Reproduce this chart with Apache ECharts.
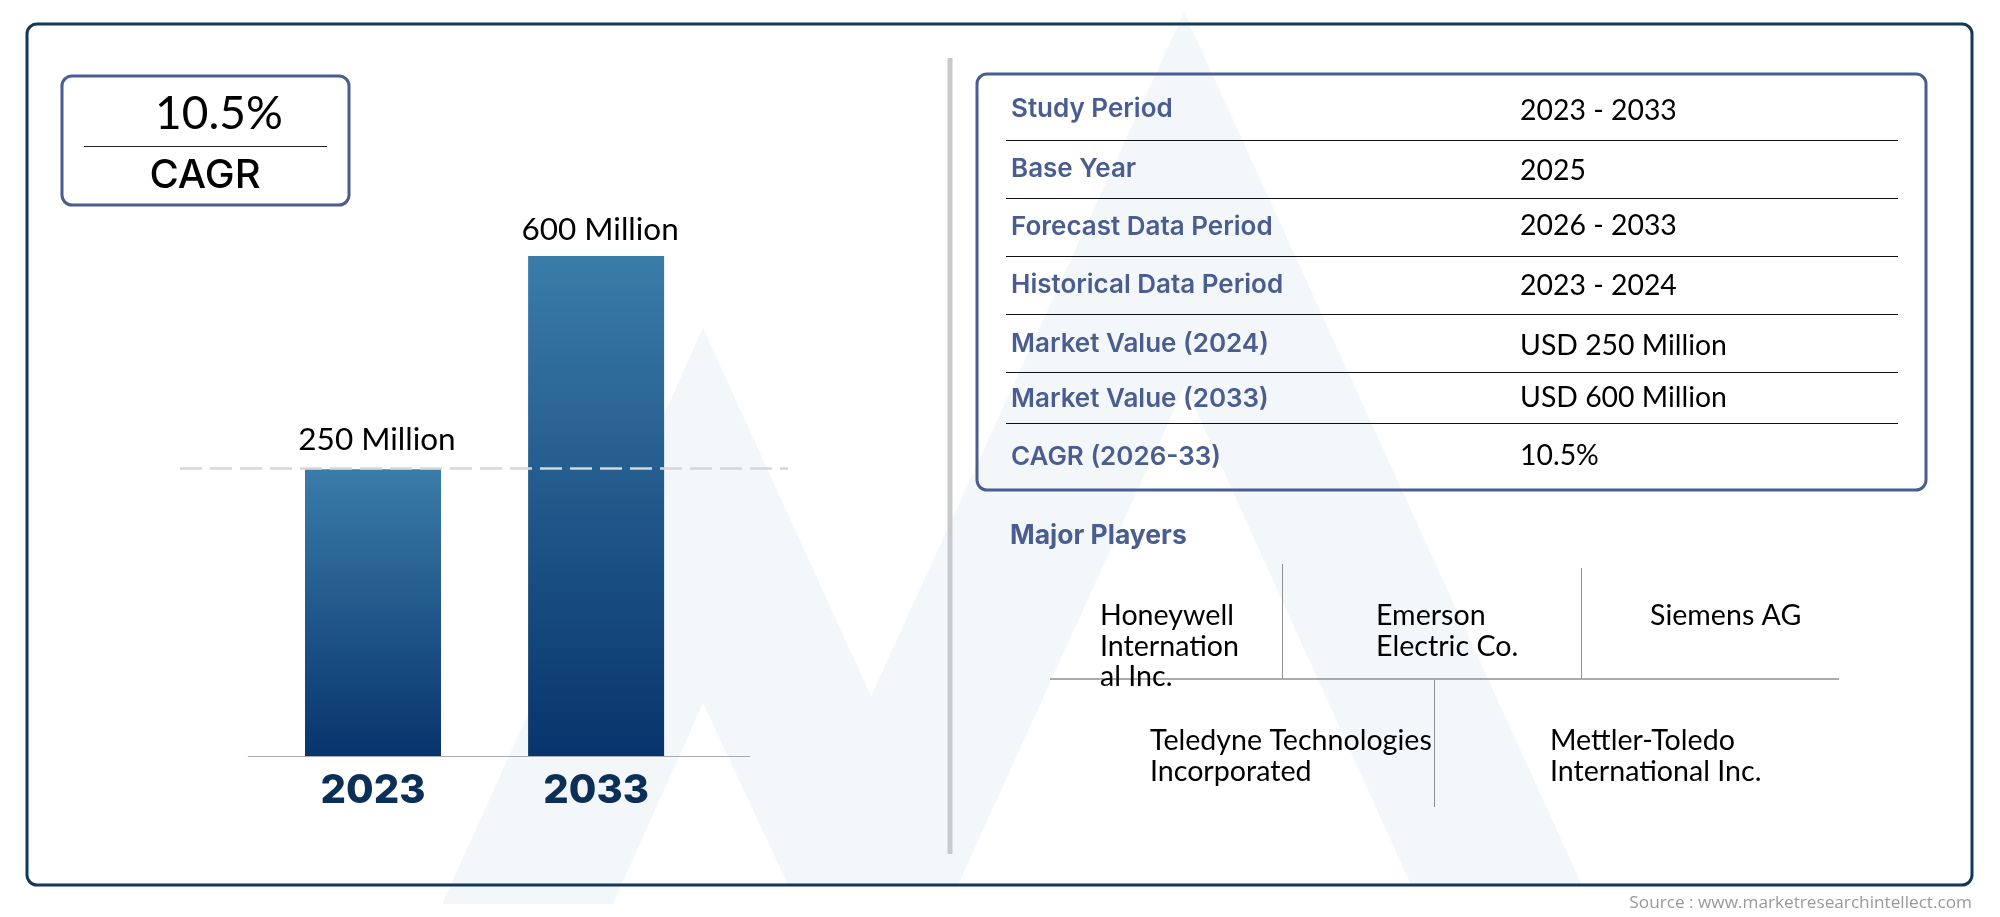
<!DOCTYPE html>
<html>
<head>
<meta charset="utf-8">
<title>CAGR chart</title>
<script src="https://cdn.jsdelivr.net/npm/echarts@6/dist/echarts.min.js"></script>
<style>
html, body { margin: 0; padding: 0; background: #fff; }
#chart-container { width: 2000px; height: 917px; }
</style>
</head>
<body>
<div id="chart-container"></div>
<script>
// bar data. Heights are as read off the picture, the drawn bars are not to scale with their labels
var years = [2023, 2033];
var barHeights = [344, 600];
var barLabels = ['250 Million', '600 Million'];
var refLevel = 345;

var cagrValue = '10.5%';
var cagrTitle = 'CAGR';

var tableLabels = ['Study Period', 'Base Year', 'Forecast Data Period', 'Historical Data Period', 'Market Value (2024)', 'Market Value (2033)', 'CAGR (2026-33)'];
var tableValues = ['2023 - 2033', '2025', '2026 - 2033', '2023 - 2024', 'USD 250 Million', 'USD 600 Million', '10.5%'];

var playersTitle = 'Major Players';
var playerNames = ['Honeywell\nInternation\nal Inc.', 'Emerson\nElectric Co.', 'Siemens AG', 'Teledyne Technologies\nIncorporated', 'Mettler-Toledo\nInternational Inc.'];
var sourceText = 'Source : www.marketresearchintellect.com';

// layout of the page around the chart
var labelGap = [13, 10];
var labelY = [109, 169, 227, 285, 344, 399, 457];
var valueY = [111, 171, 226, 286, 346, 398, 456];
var ruleY = [140.5, 198.5, 256.5, 314.5, 372.5, 423.5];
var playerX = [1100, 1376, 1650, 1150, 1550];
var playerY = [616, 616, 616, 741, 741];

var NAVY = '#12395b';
var SLATE = '#4a5d91';
var BODY_FONT = 'Lato';
var HEAD_FONT = 'Inter';

function text(str, x, y, size, family, weight, fill, align) {
    return {
        type: 'text', silent: true,
        style: {
            text: str, x: x, y: y, fontSize: size, fontFamily: family, fontWeight: weight,
            fill: fill, textAlign: align || 'left', textVerticalAlign: 'middle'
        }
    };
}

function line(x1, y1, x2, y2, color, width) {
    return {
        type: 'line', silent: true,
        shape: { x1: x1, y1: y1, x2: x2, y2: y2 },
        style: { stroke: color, lineWidth: width }
    };
}

function box(x, y, w, h, r, color, width) {
    return {
        type: 'rect', silent: true,
        shape: { x: x, y: y, width: w, height: h, r: r },
        style: { fill: 'transparent', stroke: color, lineWidth: width }
    };
}

var elements = [
    // pale logo behind everything
    {
        type: 'polygon', silent: true, z: -1,
        shape: { points: [[703, 328], [871, 696], [1184, 12], [1582, 885], [1411, 885], [1185, 386], [958, 885], [788, 885], [703, 703], [613, 904], [442, 904]] },
        style: { fill: '#f4f7fa' }
    },
    box(27, 24, 1945, 861, 10, NAVY, 3),
    line(950, 58, 950, 854, '#c8c9ca', 5),
    box(62, 76, 287, 129, 10, SLATE, 3),
    line(84, 146.5, 327, 146.5, '#222', 1),
    text(cagrValue, 219, 114, 46, BODY_FONT, 400, '#000', 'center'),
    text(cagrTitle, 205, 176, 40, HEAD_FONT, 500, '#000', 'center'),
    box(977, 74, 949, 416, 10, SLATE, 3),
    text(playersTitle, 1010, 536, 26.5, HEAD_FONT, 700, SLATE),
    line(1282.5, 564, 1282.5, 678, '#8f8f8f', 1),
    line(1581.5, 568, 1581.5, 678, '#8f8f8f', 1),
    line(1050, 679, 1839, 679, '#8f8f8f', 1.5),
    line(1434.5, 680, 1434.5, 807, '#8f8f8f', 1),
    text(sourceText, 1972, 903, 17.2, 'Open Sans', 400, '#999999', 'right')
];

tableLabels.forEach(function (label, i) {
    elements.push(text(label, 1011, labelY[i], 26, HEAD_FONT, 600, SLATE));
    elements.push(text(tableValues[i], 1520, valueY[i], 28.4, BODY_FONT, 400, '#000'));
});
ruleY.forEach(function (y) {
    elements.push(line(1006, y, 1898, y, '#111', 1));
});
playerNames.forEach(function (name, i) {
    name.split('\n').forEach(function (row, j) {
        elements.push(text(row, playerX[i], playerY[i] + j * 30.5, 28.6, BODY_FONT, 400, '#000'));
    });
});

var myChart = echarts.init(document.getElementById('chart-container'));

var option = {
    animation: false,
    graphic: { elements: elements },
    grid: { left: 180, width: 608, top: 256, height: 500 },
    xAxis: {
        type: 'value',
        min: 2014.35,
        max: 2041.6,
        splitLine: { show: false },
        axisLine: { show: false },
        axisTick: { show: false },
        axisLabel: {
            customValues: years,
            formatter: function (v) { return String(v); },
            margin: 15,
            fontFamily: HEAD_FONT,
            fontWeight: 800,
            fontSize: 40,
            color: '#0c2f57'
        }
    },
    yAxis: { type: 'value', min: 0, max: 600, show: false },
    series: [{
        type: 'bar',
        barWidth: 136,
        data: years.map(function (y, i) {
            return { value: [y, barHeights[i]], label: { distance: labelGap[i] } };
        }),
        itemStyle: {
            color: new echarts.graphic.LinearGradient(0, 0, 0, 1, [
                { offset: 0, color: '#3a7ca9' },
                { offset: 1, color: '#07346c' }
            ])
        },
        label: {
            show: true,
            position: 'top',
            offset: [4, 0],
            fontFamily: BODY_FONT,
            fontSize: 31.5,
            color: '#000',
            formatter: function (p) { return barLabels[p.dataIndex]; }
        },
        markLine: {
            silent: true,
            symbol: 'none',
            label: { show: false },
            data: [
                { yAxis: refLevel, lineStyle: { color: '#d6d6d6', width: 2.5, type: [22, 8] } },
                [
                    { coord: [2017.39, 0], lineStyle: { color: '#a9adb3', width: 1, type: 'solid' } },
                    { coord: [2039.9, 0] }
                ]
            ]
        }
    }]
};

myChart.setOption(option);
</script>
</body>
</html>
